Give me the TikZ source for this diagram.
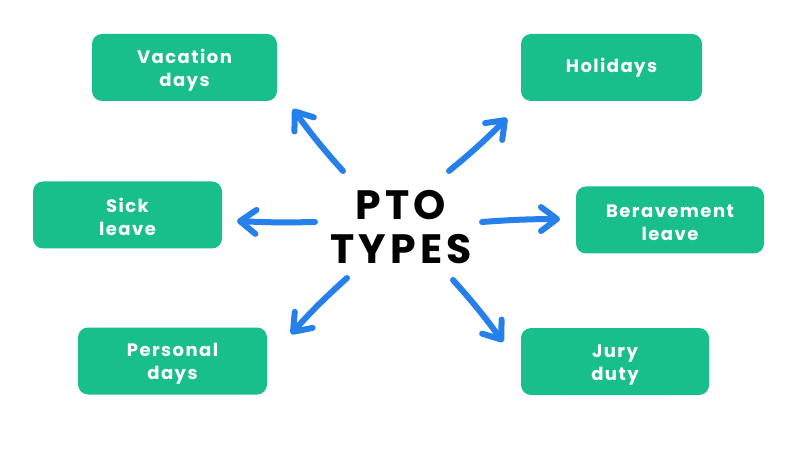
\documentclass[tikz,border=0pt]{standalone}
\usepackage{fontspec}
\setmainfont{Poppins}
\newfontfamily\boxfont[LetterSpace=8]{Poppins}
\newfontfamily\titlefont[LetterSpace=10]{Poppins}
\usetikzlibrary{arrows.meta}
\definecolor{ptogreen}{HTML}{19BF8B}
\definecolor{ptoblue}{HTML}{2680EB}
\newcommand\boxstrut{\rule{0pt}{19pt}}

\begin{document}
\begin{tikzpicture}[x=1pt,y=1pt,line width=6pt,line cap=round,
  -{Straight Barb[round,length=16pt,width=24pt]}]

  \tikzstyle{typebox}=[fill=ptogreen,draw=none,rounded corners=10pt,
    minimum height=67pt,align=center,text=white,
    font=\boxfont\bfseries\fontsize{18}{23}\selectfont]
  \tikzstyle{typearrow}=[draw=ptoblue]

  \useasboundingbox (0,0) rectangle (800,450);

  \node[font=\titlefont\bfseries\fontsize{41}{44}\selectfont,align=center] (pto) at (401,223) {PTO\\TYPES};

  \node[typebox,minimum width=185pt] (vacation)    at (184.5,382.5) {\boxstrut Vacation\\days};
  \node[typebox,minimum width=181pt] (holidays)    at (611.5,382.5) {Holidays};
  \node[typebox,minimum width=189pt] (sick)        at (127.5,235)   {\boxstrut Sick\\leave};
  \node[typebox,minimum width=188pt] (bereavement) at (670,230)     {\boxstrut Beravement\\leave};
  \node[typebox,minimum width=189pt] (personal)    at (172.5,89)    {\boxstrut Personal\\days};
  \node[typebox,minimum width=188pt] (jury)        at (615,88.5)    {\boxstrut Jury\\duty};

  \coordinate (vacation-from)    at (343,279);
  \coordinate (vacation-to)      at (293,341);
  \coordinate (holidays-from)    at (449,279);
  \coordinate (holidays-to)      at (507,332);
  \coordinate (sick-from)        at (315,228);
  \coordinate (sick-to)          at (237,229);
  \coordinate (bereavement-from) at (482,228);
  \coordinate (bereavement-to)   at (560,231);
  \coordinate (personal-from)    at (347,172);
  \coordinate (personal-to)      at (291,116);
  \coordinate (jury-from)        at (453,170);
  \coordinate (jury-to)          at (503,108);

  \draw[typearrow] (vacation-from)    to[bend left=3]  (vacation-to);
  \draw[typearrow] (holidays-from)    to[bend right=3] (holidays-to);
  \draw[typearrow] (sick-from)        to[bend left=2]  (sick-to);
  \draw[typearrow] (bereavement-from) to[bend left=2]  (bereavement-to);
  \draw[typearrow] (personal-from)    to[bend right=3] (personal-to);
  \draw[typearrow] (jury-from)        to[bend left=3]  (jury-to);
\end{tikzpicture}
\end{document}
